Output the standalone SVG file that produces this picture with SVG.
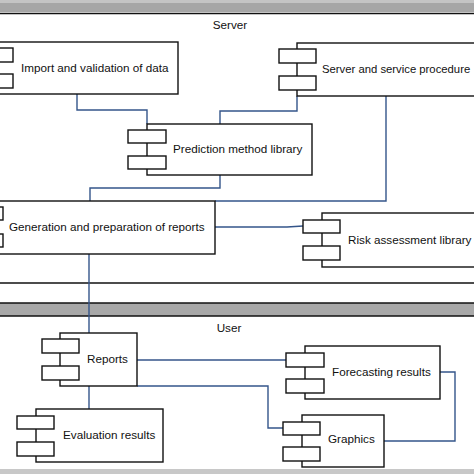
<svg xmlns="http://www.w3.org/2000/svg" width="474" height="474" viewBox="0 0 474 474">
<style>
.box{fill:#fff;stroke:#111;stroke-width:1.4}
.pin{fill:#fff;stroke:#111;stroke-width:1.4}
.lbl{font-family:"Liberation Sans",Arial,sans-serif;font-size:11.7px;fill:#111}
.con{fill:none;stroke:#34558a;stroke-width:1.4}
.pkg{stroke:#111;stroke-width:1.6}
</style>
<rect x="0" y="0" width="474" height="474" fill="#fff"/>
<g id="frames">
<rect x="0" y="0" width="474" height="12" fill="#a6a6a6"/>
<rect x="0" y="0" width="474" height="3" fill="#c4c4c4"/>
<line class="pkg" x1="0" y1="13.5" x2="474" y2="13.5"/>
<line class="pkg" x1="0" y1="283" x2="474" y2="283"/>
<rect x="0" y="303" width="474" height="13" fill="#a8a8a8"/>
<line class="pkg" x1="0" y1="303" x2="474" y2="303"/>
<line class="pkg" x1="0" y1="316" x2="474" y2="316"/>
<rect x="0" y="469" width="474" height="5" fill="#c8c8c8"/>
<text class="lbl" x="230" y="29" text-anchor="middle">Server</text>
<text class="lbl" x="229" y="332" text-anchor="middle">User</text>
</g>
<g id="connectors">
<polyline class="con" points="77,94 77,110 147,110 147,124"/>
<polyline class="con" points="297,96 297,111 220,111 220,124"/>
<polyline class="con" points="220,175 220,188 90,188 90,201"/>
<polyline class="con" points="386,96 386,201 215,201"/>
<polyline class="con" points="215,227 287,227 303,226"/>
<polyline class="con" points="89,254 89,333"/>
<polyline class="con" points="89,386 89,409"/>
<polyline class="con" points="137,360 286,360"/>
<polyline class="con" points="137,386 268,386 268,428 283,428"/>
<polyline class="con" points="440,372 455,372 455,441 384,441"/>
</g>
<g id="import">
<rect class="box" x="-6" y="42" width="184" height="52"/>
<rect class="pin" x="-25" y="48" width="38" height="14"/>
<rect class="pin" x="-25" y="74" width="38" height="14"/>
<text class="lbl" x="21" y="72">Import and validation of data</text>
</g>
<g id="server">
<rect class="box" x="297" y="43" width="200" height="53"/>
<rect class="pin" x="279" y="49" width="37" height="14"/>
<rect class="pin" x="279" y="76" width="37" height="14"/>
<text class="lbl" x="322" y="73" style="font-size:11.3px">Server and service procedure</text>
</g>
<g id="prediction">
<rect class="box" x="147" y="124" width="165" height="51"/>
<rect class="pin" x="128" y="130" width="38" height="13"/>
<rect class="pin" x="128" y="156" width="38" height="13"/>
<text class="lbl" x="173" y="153">Prediction method library</text>
</g>
<g id="generation">
<rect class="box" x="-16" y="201" width="231" height="53"/>
<rect class="pin" x="-35" y="207" width="38" height="13"/>
<rect class="pin" x="-35" y="234" width="38" height="13"/>
<text class="lbl" x="9" y="231">Generation and preparation of reports</text>
</g>
<g id="risk">
<rect class="box" x="322" y="213" width="200" height="54"/>
<rect class="pin" x="303" y="220" width="37" height="13"/>
<rect class="pin" x="303" y="246" width="37" height="14"/>
<text class="lbl" x="348" y="244">Risk assessment library</text>
</g>
<g id="reports">
<rect class="box" x="60" y="333" width="77" height="53"/>
<rect class="pin" x="42" y="339" width="37" height="14"/>
<rect class="pin" x="42" y="366" width="37" height="14"/>
<text class="lbl" x="87" y="363">Reports</text>
</g>
<g id="evaluation">
<rect class="box" x="36" y="409" width="127" height="53"/>
<rect class="pin" x="17" y="416" width="37" height="13"/>
<rect class="pin" x="17" y="442" width="37" height="14"/>
<text class="lbl" x="63" y="439">Evaluation results</text>
</g>
<g id="forecasting">
<rect class="box" x="305" y="346" width="135" height="53"/>
<rect class="pin" x="286" y="353" width="38" height="14"/>
<rect class="pin" x="286" y="379" width="38" height="14"/>
<text class="lbl" x="332" y="376">Forecasting results</text>
</g>
<g id="graphics">
<rect class="box" x="302" y="415" width="82" height="52"/>
<rect class="pin" x="283" y="422" width="37" height="13"/>
<rect class="pin" x="283" y="447" width="37" height="14"/>
<text class="lbl" x="328" y="443">Graphics</text>
</g>
</svg>
